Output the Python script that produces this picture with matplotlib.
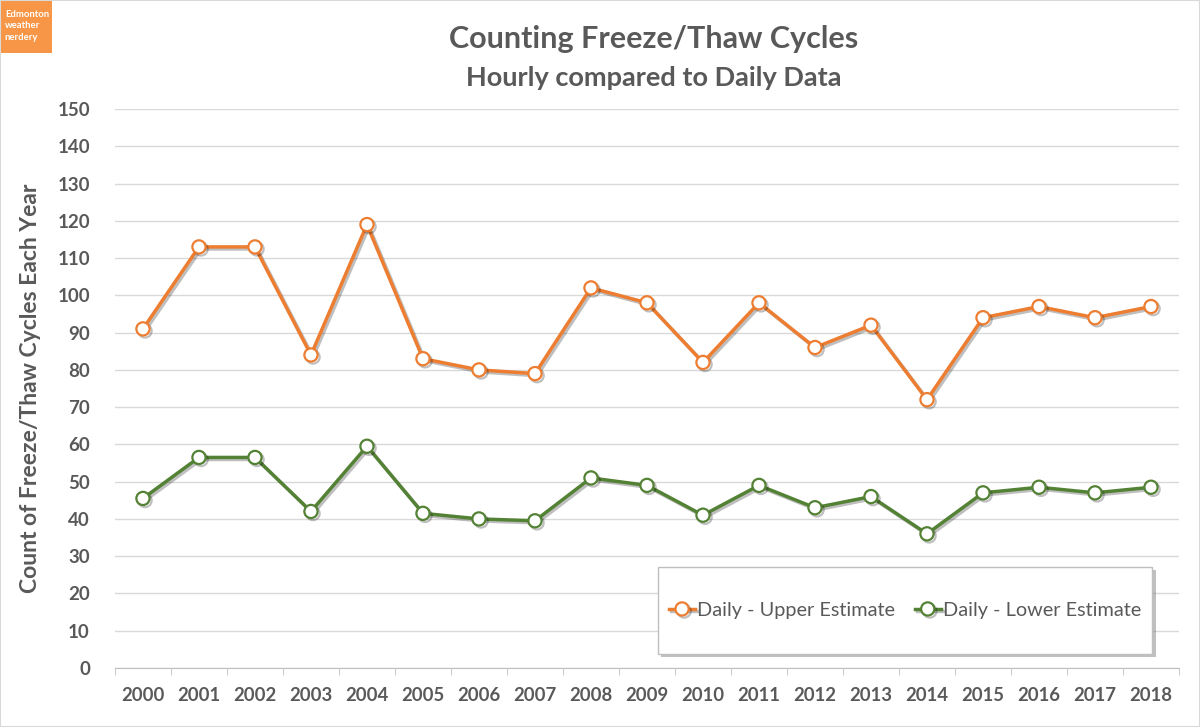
#!/usr/bin/env python3
# Freeze/thaw cycle counts, daily upper vs lower estimate

from matplotlib import pyplot as plt
from matplotlib import patheffects as pe
from matplotlib.patches import Rectangle

plt.rcParams['font.family'] = ['Lato', 'DejaVu Sans']

years = [str(y) for y in range(2000, 2019)]
upper = [91, 113, 113, 84, 119, 83, 80, 79, 102, 98, 82, 98, 86, 92, 72, 94, 97, 94, 97]
lower = [45.5, 56.5, 56.5, 42, 59.5, 41.5, 40, 39.5, 51, 49, 41, 49, 43, 46, 36, 47, 48.5, 47, 48.5]
yticks = list(range(0, 151, 10))

orange = "#ED7D31"
green = "#548235"
grey = "#595959"

fig = plt.figure(figsize = (12, 7.27), dpi = 100)
ax = fig.add_axes([0.0958, 0.0812, 0.8867, 0.7688])

x = list(range(len(years)))
shadow = [pe.SimpleLineShadow(offset = (1.5, -1.5), shadow_color = "#000000", alpha = 0.25), pe.Normal()]

ax.plot(x, upper, color = orange, lw = 2.5, marker = "o", ms = 9.5, mfc = "white",
        mec = orange, mew = 1.6, path_effects = shadow, zorder = 3, label = "Daily - Upper Estimate")
ax.plot(x, lower, color = green, lw = 2.5, marker = "o", ms = 9.5, mfc = "white",
        mec = green, mew = 1.6, path_effects = shadow, zorder = 3, label = "Daily - Lower Estimate")

ax.set_xlim(-0.5, len(years) - 0.5)
ax.set_ylim(0, 150)
ax.set_yticks(yticks)
ax.set_xticks(x)
ax.set_xticklabels(years)
ax.set_xticks([i - 0.5 for i in range(len(years) + 1)], minor = True)

ax.grid(axis = "y", color = "#D9D9D9", lw = 1)
ax.set_axisbelow(True)
for s in ["top", "right", "left"]:
    ax.spines[s].set_visible(False)
ax.spines["bottom"].set_color("#BFBFBF")
ax.tick_params(axis = "x", which = "major", length = 0, pad = 14, labelsize = 13.3, labelcolor = grey)
ax.tick_params(axis = "x", which = "minor", length = 5, color = "#BFBFBF", direction = "out")
ax.tick_params(axis = "y", length = 0, pad = 18, labelsize = 13.5, labelcolor = grey)
for lab in ax.get_xticklabels() + ax.get_yticklabels():
    lab.set_fontweight("bold")

ax.set_ylabel("Count of Freeze/Thaw Cycles Each Year", fontsize = 16.5, fontweight = "bold",
              color = grey, labelpad = 12)

# titles
fig.text(0.545, 0.947, "Counting Freeze/Thaw Cycles", ha = "center", va = "center",
         fontsize = 22, fontweight = "bold", color = grey)
fig.text(0.545, 0.893, "Hourly compared to Daily Data", ha = "center", va = "center",
         fontsize = 19.5, fontweight = "bold", color = grey)

# legend box with shadow
box = Rectangle((0.510, 0.025), 0.465, 0.156, transform = ax.transAxes, facecolor = "white",
                edgecolor = "#BFBFBF", lw = 1, zorder = 4,
                path_effects = [pe.SimplePatchShadow(offset = (2.5, -2.5), alpha = 0.35), pe.Normal()])
ax.add_patch(box)
leg = ax.legend(loc = "center", bbox_to_anchor = (0.7425, 0.103), frameon = False, ncol = 2,
                fontsize = 14.3, handlelength = 1.3, handletextpad = 0.1, columnspacing = 1.0)
leg.set_zorder(5)
for t in leg.get_texts():
    t.set_color(grey)

# logo
fig.patches.append(Rectangle((0, 1 - 53 / 727), 52 / 1200, 53 / 727, transform = fig.transFigure,
                             facecolor = "#F79646", edgecolor = "none"))
fig.text(0.004, 1 - 26 / 727, "Edmonton\nweather\nnerdery", ha = "left", va = "center",
         fontsize = 6.8, fontweight = "bold", color = "white", linespacing = 1.3)

# chart border
fig.patches.append(Rectangle((0, 0), 1, 1, transform = fig.transFigure, facecolor = "none",
                             edgecolor = "#D9D9D9", lw = 1.5))

plt.savefig("out.png", dpi = 100)
